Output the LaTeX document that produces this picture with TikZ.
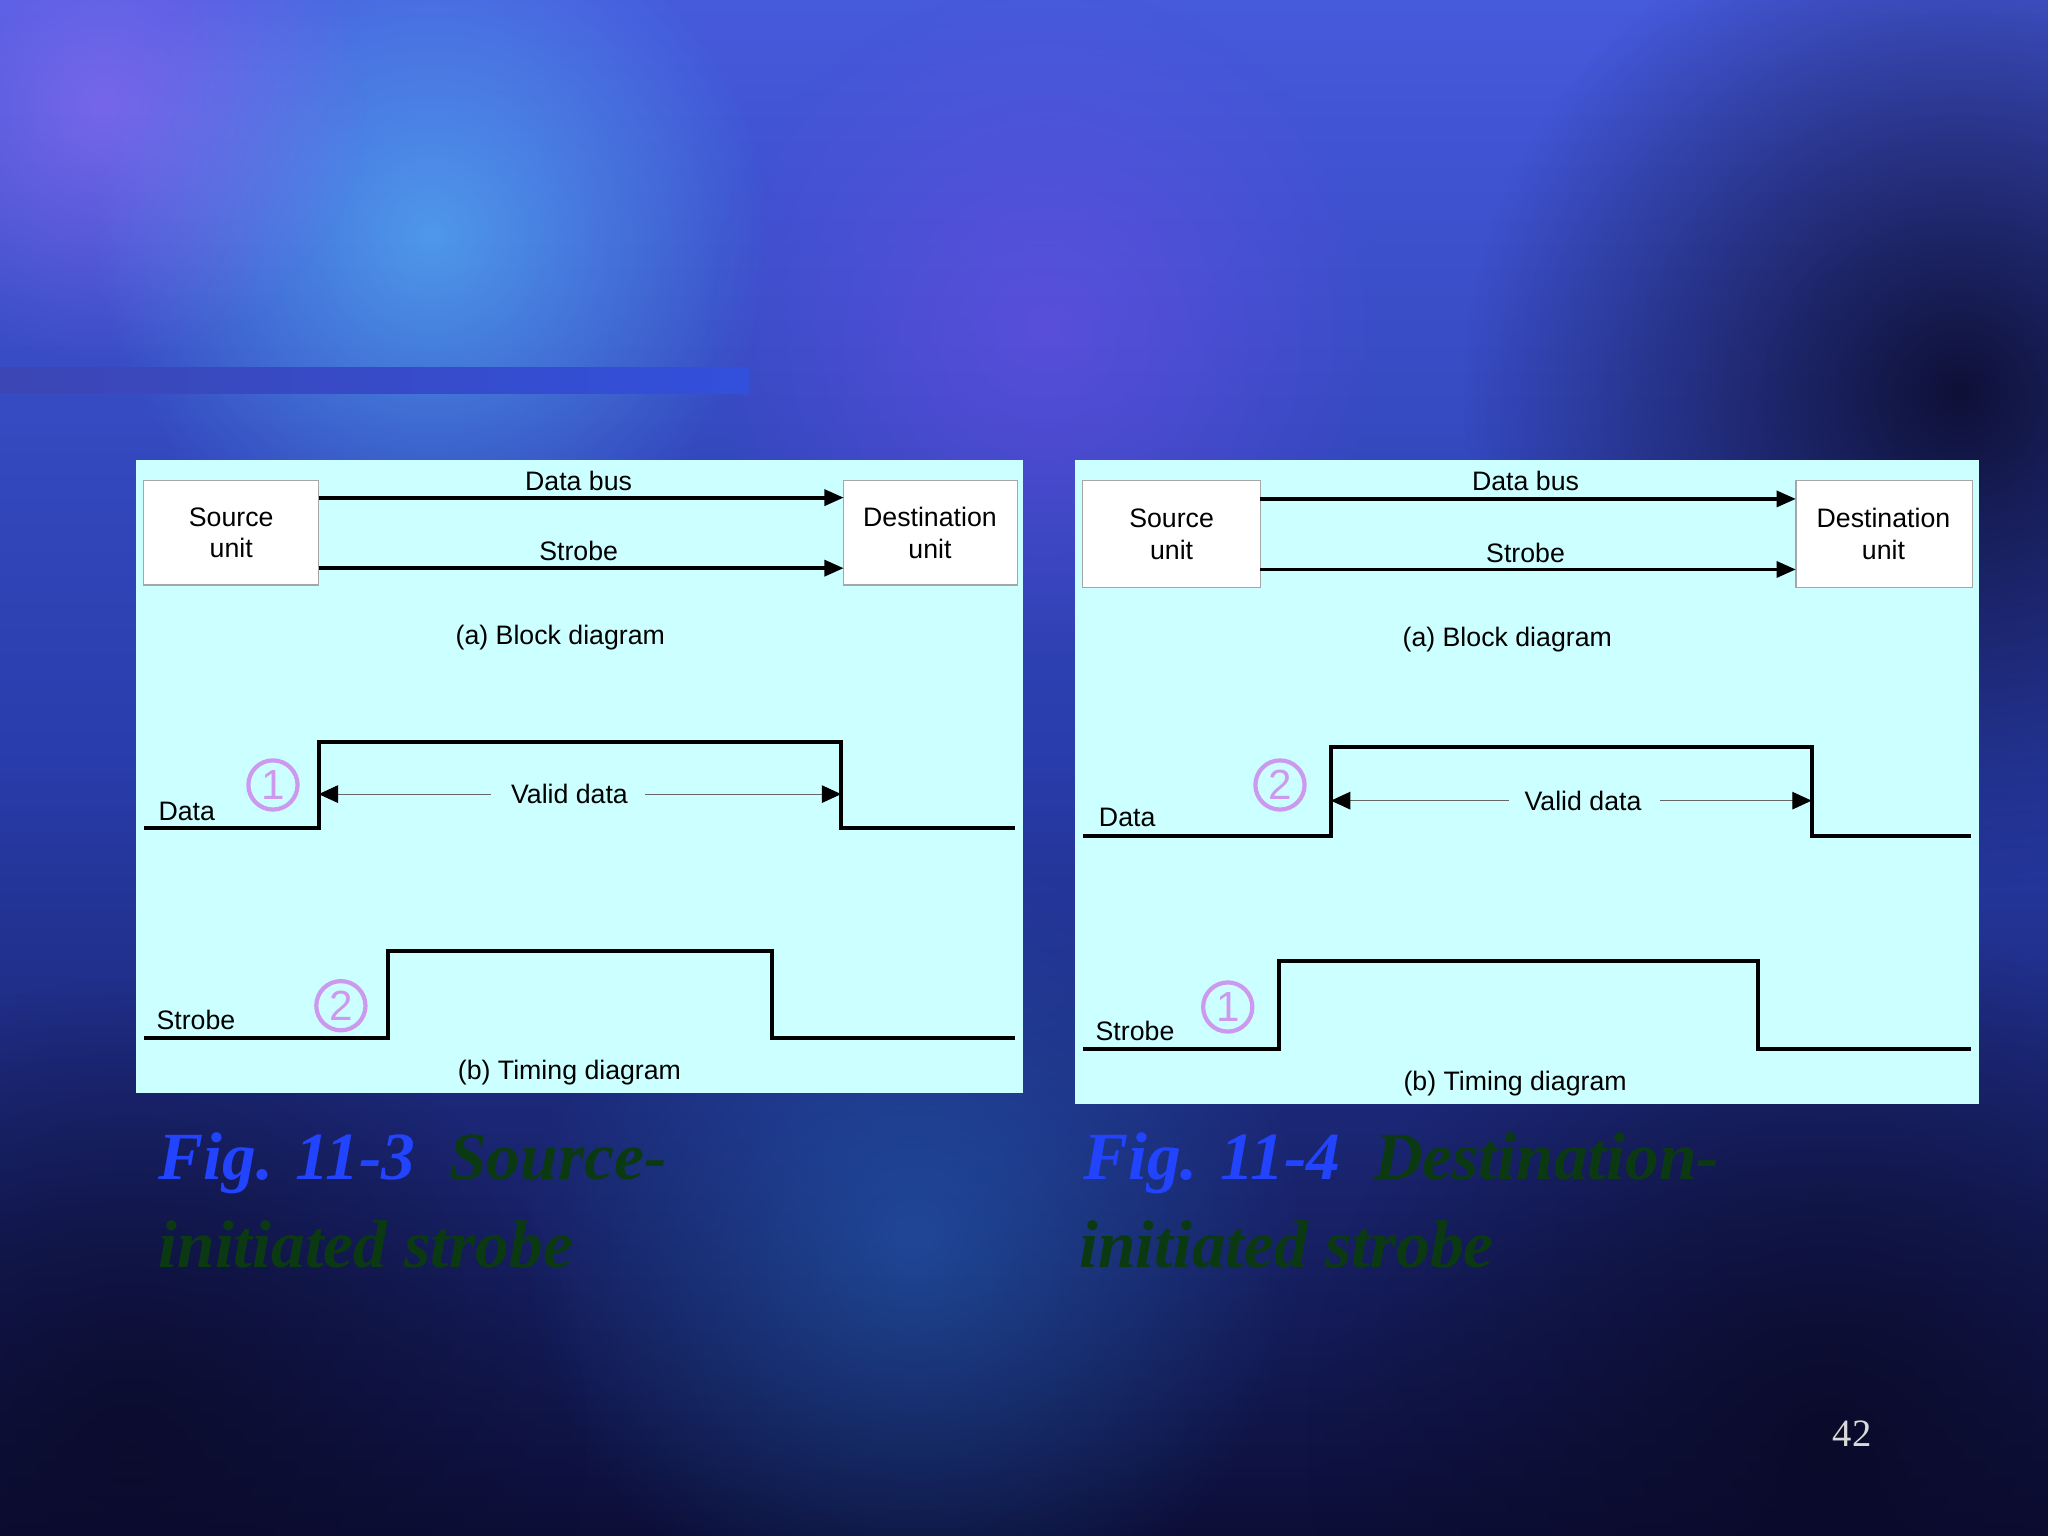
\documentclass[tikz,border=0pt]{standalone}
\usepackage{fontspec}
\setmainfont{Liberation Serif}
\setsansfont{Liberation Sans}
\usetikzlibrary{fadings,arrows.meta}
\tikzfading[name=glowfade, inner color=transparent!0, outer color=transparent!100]
\definecolor{panel}{HTML}{CCFFFF}
\definecolor{circ}{HTML}{CC99EE}
\definecolor{figblue}{HTML}{2244FF}
\definecolor{figgreen}{HTML}{0B3A12}
\definecolor{bgtop}{RGB}{70,90,220}
\definecolor{bgmid}{RGB}{40,60,170}
\definecolor{bgbot}{RGB}{12,14,55}
\definecolor{glowcyan}{RGB}{90,200,255}
\definecolor{glowviolet}{RGB}{170,120,255}
\definecolor{glowpurple}{RGB}{120,80,240}
\definecolor{darkspot}{RGB}{10,10,40}
\definecolor{midblue}{RGB}{40,110,200}
\definecolor{barl}{RGB}{60,70,180}
\definecolor{barr}{RGB}{50,80,220}
\tikzset{
  lbl/.style={font=\sffamily\fontsize{7.6}{9}\selectfont, inner sep=0pt},
  unitbox/.style={draw=gray!70, fill=white, line width=0.4pt},
  sig/.style={line width=1.1pt},
  bus/.style={line width=1.1pt, -{Triangle[length=5.5pt,width=4.5pt]}},
  thinarr/.style={line width=0.3pt, draw=gray!80!black, -{Triangle[length=5.5pt,width=5pt,fill=black,color=black]}},
  numc/.style={circle, draw=circ, line width=1.2pt, minimum size=14pt, inner sep=0pt, text=circ, font=\sffamily\fontsize{12}{12}\selectfont},
  figcap/.style={font=\bfseries\itshape\fontsize{19.2}{22}\selectfont, anchor=west, inner sep=0pt},
  glow/.style={path fading=glowfade, fill=#1}
}
\begin{document}
\begin{tikzpicture}[x=0.013061cm,y=-0.013061cm]
\useasboundingbox (0,0) rectangle (1568,1176);
% background
\fill[top color=bgtop, bottom color=bgbot, middle color=bgmid] (0,0) rectangle (1568,1176);
\path[glow=glowcyan, opacity=0.6] (330,180) circle (260);
\path[glow=glowviolet, opacity=0.5] (80,80) circle (200);
\path[glow=glowpurple, opacity=0.5] (800,250) circle (260);
\path[glow=darkspot, opacity=0.9] (1500,300) circle (380);
\path[glow=darkspot, opacity=0.9] (1400,1100) circle (400);
\path[glow=darkspot, opacity=0.8] (100,1100) circle (350);
\path[glow=midblue, opacity=0.5] (700,950) circle (300);
% top bar
\fill[left color=barl, right color=barr] (0,281) rectangle (573,301);

% ===== Left panel =====
\fill[panel] (104,352) rectangle (783,837);
\draw[unitbox] (110,368) rectangle (244,448);
\draw[unitbox] (646,368) rectangle (779,448);
\node[lbl, align=center] (lsrc) at (177,408) {Source\\unit};
\node[lbl, align=center] (ldst) at (712,408) {Destination\\unit};
\coordinate (la1) at (244,381); \coordinate (lb1) at (646,381);
\coordinate (la2) at (244,435); \coordinate (lb2) at (646,435);
\draw[bus] (la1) -- (lb1);
\draw[bus] (la2) -- (lb2);
\node[lbl] (ldb) at (443,368) {Data bus};
\node[lbl] (lst) at (443,422) {Strobe};
\node[lbl] (lbd) at (429,488) {(a) Block diagram};
\draw[sig] (110,634) -- (244,634) -- (244,568) -- (644,568) -- (644,634) -- (777,634);
\node[lbl] (lvd) at (436,608) {Valid data};
\coordinate (lv1) at (244,608); \coordinate (lv2) at (644,608);
\draw[thinarr] (376,608) -- (lv1);
\draw[thinarr] (494,608) -- (lv2);
\node[lbl] (ldata) at (143,621) {Data};
\node[numc] (lc1) at (209,601) {1};
\draw[sig] (110,795) -- (297,795) -- (297,728) -- (591,728) -- (591,795) -- (777,795);
\node[lbl] (lstr) at (150,781) {Strobe};
\node[numc] (lc2) at (261,770) {2};
\node[lbl] (ltd) at (436,821) {(b) Timing diagram};

% ===== Right panel =====
\fill[panel] (823,352) rectangle (1515,845);
\draw[unitbox] (829,368) rectangle (965,450);
\draw[unitbox] (1375,368) rectangle (1510,450);
\node[lbl, align=center] (rsrc) at (897,409) {Source\\unit};
\node[lbl, align=center] (rdst) at (1442,409) {Destination\\unit};
\coordinate (ra1) at (965,382); \coordinate (rb1) at (1375,382);
\coordinate (ra2) at (965,436); \coordinate (rb2) at (1375,436);
\draw[bus] (ra1) -- (rb1);
\draw[bus] (ra2) -- (rb2);
\node[lbl] (rdb) at (1168,368) {Data bus};
\node[lbl] (rst) at (1168,423) {Strobe};
\node[lbl] (rbd) at (1154,490) {(a) Block diagram};
\draw[sig] (829,640) -- (1019,640) -- (1019,572) -- (1387,572) -- (1387,640) -- (1509,640);
\node[lbl] (rvd) at (1212,613) {Valid data};
\coordinate (rv1) at (1019,613); \coordinate (rv2) at (1387,613);
\draw[thinarr] (1155,613) -- (rv1);
\draw[thinarr] (1271,613) -- (rv2);
\node[lbl] (rdata) at (863,626) {Data};
\node[numc] (rc2) at (980,601) {2};
\draw[sig] (829,803) -- (979,803) -- (979,736) -- (1346,736) -- (1346,803) -- (1509,803);
\node[lbl] (rstr) at (869,789) {Strobe};
\node[numc] (rc1) at (940,771) {1};
\node[lbl] (rtd) at (1160,830) {(b) Timing diagram};

% captions
\node[figcap] (c1) at (121,891) {\textcolor{figblue}{Fig. 11-3}\ \ \textcolor{figgreen}{Source-}};
\node[figcap, text=figgreen] (c2) at (121,953) {initiated strobe};
\node[figcap] (c3) at (829,891) {\textcolor{figblue}{Fig. 11-4}\ \ \textcolor{figgreen}{Destination-}};
\node[figcap, text=figgreen] (c4) at (826,953) {initiated strobe};
\node[font=\fontsize{11}{12}\selectfont, text=gray!30] (pg) at (1418,1098) {42};
\end{tikzpicture}
\end{document}
